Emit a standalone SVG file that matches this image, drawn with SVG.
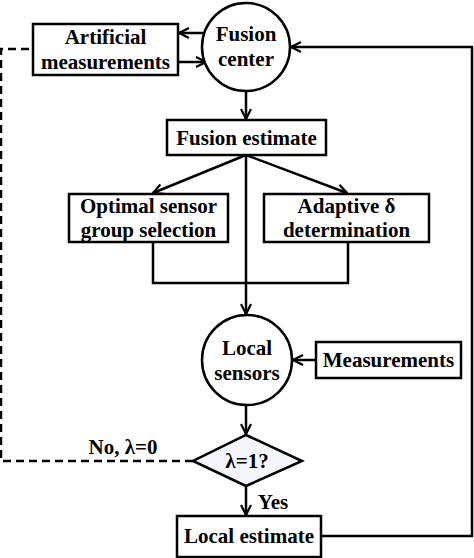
<svg xmlns="http://www.w3.org/2000/svg" width="474" height="558" viewBox="0 0 474 558">
<defs>
<style>
.n{fill:#fff;stroke:#000;stroke-width:2.5}
.t{font-family:'Liberation Serif','Times New Roman',Times,serif;font-weight:700;font-size:21px;text-anchor:middle;fill:#000}
.c{fill:none;stroke:#000;stroke-width:2.5}
.d{fill:none;stroke:#000;stroke-width:2.5;stroke-dasharray:8,5}
</style>
<marker id="a" viewBox="0 0 12 12" refX="11" refY="6" markerWidth="12" markerHeight="12" markerUnits="userSpaceOnUse" orient="auto">
<path d="M1,1 L11,6 L1,11" fill="none" stroke="#000" stroke-width="2.2"/>
</marker>
</defs>
<rect width="474" height="558" fill="#fff"/>
<g id="connectors">
<line class="c" x1="203" y1="33" x2="179" y2="33" marker-end="url(#a)"/>
<line class="c" x1="179" y1="62" x2="206" y2="62" marker-end="url(#a)"/>
<line class="c" x1="246" y1="91" x2="246" y2="119" marker-end="url(#a)"/>
<line class="c" x1="246" y1="155" x2="153" y2="193" marker-end="url(#a)"/>
<line class="c" x1="246" y1="155" x2="347" y2="193" marker-end="url(#a)"/>
<line class="c" x1="246" y1="155" x2="246" y2="314" marker-end="url(#a)"/>
<polyline class="c" points="153,242 153,283 348,283 348,242"/>
<line class="c" x1="316" y1="360" x2="293" y2="360" marker-end="url(#a)"/>
<line class="c" x1="246" y1="404" x2="246" y2="434" marker-end="url(#a)"/>
<line class="c" x1="246" y1="486" x2="246" y2="515" marker-end="url(#a)"/>
<polyline class="c" points="321,536 472,536 472,47 291,47" marker-end="url(#a)"/>
<polyline class="d" points="193,461 1,461 1,49 33,49"/>
<text class="t" x="123" y="454">No, λ=0</text>
<text class="t" x="273" y="509">Yes</text>
</g>
<g id="fusion-center">
<circle class="n" cx="246" cy="47" r="44"/>
<text class="t" x="246" y="41">Fusion</text>
<text class="t" x="246" y="66">center</text>
</g>
<g id="artificial-measurements">
<rect class="n" x="33" y="24" width="145" height="51"/>
<text class="t" x="105.5" y="44">Artificial</text>
<text class="t" x="105.5" y="69">measurements</text>
</g>
<g id="fusion-estimate">
<rect class="n" x="167" y="120" width="159" height="35"/>
<text class="t" x="246.5" y="145">Fusion estimate</text>
</g>
<g id="optimal-sensor">
<rect class="n" x="69" y="194" width="159" height="48"/>
<text class="t" x="148.5" y="213">Optimal sensor</text>
<text class="t" x="148.5" y="237">group selection</text>
</g>
<g id="adaptive-delta">
<rect class="n" x="264" y="194" width="165" height="48"/>
<text class="t" x="346.5" y="213">Adaptive δ</text>
<text class="t" x="346.5" y="237">determination</text>
</g>
<g id="local-sensors">
<circle class="n" cx="247" cy="360" r="45"/>
<text class="t" x="247" y="355">Local</text>
<text class="t" x="247" y="380">sensors</text>
</g>
<g id="measurements">
<rect class="n" x="316" y="342" width="145" height="36"/>
<text class="t" x="388.5" y="367">Measurements</text>
</g>
<g id="decision">
<polygon class="n" points="246,435 302,461 246,486 193,461" style="fill:#f4f6fb"/>
<text class="t" x="247" y="468">λ=1?</text>
</g>
<g id="local-estimate">
<rect class="n" x="177" y="516" width="144" height="41"/>
<text class="t" x="249" y="543">Local estimate</text>
</g>
</svg>
